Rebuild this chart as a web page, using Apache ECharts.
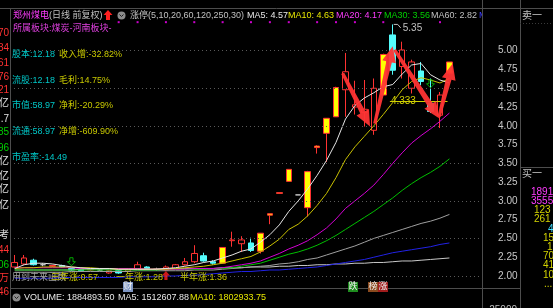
<!DOCTYPE html>
<html><head><meta charset="utf-8">
<script src="https://cdn.jsdelivr.net/npm/echarts@6/dist/echarts.min.js"></script>
<style>html,body{margin:0;padding:0;background:#000;overflow:hidden}#c{width:553px;height:308px}</style>
</head><body><div id="c"></div>
<script>
// ---------------- data ----------------
const categories = ['1','2','3','4','5','6','7','8','9','10','11','12','13','14','15','16','17','18','19','20','21','22','23','24','25','26','27','28','29','30','31','32','33','34','35','36','37','38','39','40','41','42','43','44','45','46','47','48','49','50'];
const opens  = [2.12,2.16,2.21,2.15,2.13,2.14,2.10,2.09,2.08,2.08,2.04,2.07,2.06,2.09,2.12,2.09,2.08,2.09,2.15,2.19,2.27,2.19,2.17,2.47,2.43,2.44,2.33,2.81,3.10,3.26,3.08,2.91,3.71,3.90,4.12,4.48,4.25,4.18,3.94,4.41,5.21,4.79,4.50,4.73,4.30,4.14,4.70];
const closes = [2.18,2.24,2.15,2.15,2.14,2.12,2.08,2.07,2.09,2.08,2.07,2.04,2.08,2.15,2.10,2.09,2.12,2.15,2.19,2.30,2.20,2.17,2.38,2.48,2.48,2.34,2.57,2.83,3.11,3.42,3.08,3.39,3.73,4.10,4.51,4.72,4.28,4.22,4.50,4.95,4.74,5.01,4.85,4.59,4.19,4.41,4.85];
const lows   = [2.11,2.15,2.14,2.13,2.12,2.11,2.07,2.06,2.07,2.07,2.03,2.03,2.05,2.08,2.09,2.07,2.07,2.08,2.14,2.17,2.19,2.15,2.16,2.39,2.32,2.32,2.30,2.69,3.10,3.26,3.08,2.79,3.63,3.52,4.12,4.12,4.15,3.99,3.88,4.41,4.68,4.63,4.43,4.54,4.17,3.97,4.68];
const highs  = [2.28,2.28,2.23,2.17,2.15,2.15,2.11,2.10,2.10,2.10,2.08,2.08,2.09,2.19,2.13,2.11,2.14,2.16,2.24,2.41,2.31,2.21,2.38,2.59,2.53,2.51,2.57,2.83,3.11,3.42,3.08,3.40,3.74,4.10,4.52,4.97,4.60,4.61,4.63,4.96,5.35,5.12,4.88,4.85,4.63,4.45,4.85];
const limitUpIdx = [22,26,27,28,29,31,32,33,34,39,46];
const flatIdx = [3,9,15,30];

const ma5   = [2.10,2.15,2.17,2.17,2.16,2.14,2.12,2.11,2.10,2.10,2.10,2.09,2.09,2.09,2.09,2.09,2.10,2.11,2.13,2.15,2.18,2.20,2.24,2.28,2.33,2.36,2.45,2.55,2.68,2.86,3.00,3.16,3.34,3.54,3.78,4.09,4.27,4.37,4.44,4.52,4.55,4.69,4.81,4.83,4.68,4.61,4.57];
const ma10  = [2.10,2.11,2.11,2.12,2.12,2.12,2.12,2.11,2.11,2.10,2.10,2.09,2.09,2.09,2.09,2.09,2.09,2.10,2.11,2.12,2.13,2.15,2.17,2.20,2.23,2.26,2.32,2.40,2.49,2.62,2.69,2.80,2.94,3.10,3.31,3.55,3.72,3.86,4.00,4.15,4.31,4.48,4.59,4.64,4.61,4.57,4.63];
const ma20  = [2.11,2.11,2.11,2.11,2.11,2.11,2.11,2.10,2.10,2.10,2.10,2.10,2.10,2.10,2.09,2.09,2.09,2.09,2.09,2.10,2.10,2.10,2.11,2.13,2.15,2.17,2.20,2.25,2.30,2.36,2.41,2.47,2.55,2.64,2.76,2.90,3.00,3.10,3.21,3.35,3.50,3.64,3.77,3.87,3.96,4.06,4.17];
const ma30  = [2.08,2.08,2.08,2.08,2.08,2.08,2.08,2.08,2.08,2.08,2.08,2.08,2.08,2.08,2.08,2.08,2.09,2.09,2.09,2.09,2.09,2.10,2.10,2.11,2.13,2.15,2.17,2.21,2.25,2.29,2.32,2.36,2.41,2.47,2.54,2.62,2.70,2.78,2.86,2.95,3.04,3.14,3.23,3.31,3.38,3.46,3.56];
const ma60  = [2.05,2.05,2.05,2.05,2.05,2.05,2.06,2.06,2.06,2.06,2.06,2.06,2.06,2.07,2.07,2.07,2.07,2.07,2.07,2.08,2.08,2.08,2.09,2.10,2.11,2.12,2.13,2.14,2.16,2.17,2.19,2.22,2.24,2.28,2.32,2.36,2.40,2.45,2.50,2.54,2.58,2.62,2.66,2.70,2.73,2.77,2.82];
const ma120 = [1.97,1.97,1.97,1.97,1.97,1.98,1.98,1.98,1.98,1.98,1.98,1.98,1.99,1.99,1.99,1.99,2.00,2.00,2.01,2.01,2.02,2.03,2.04,2.05,2.06,2.06,2.07,2.08,2.08,2.09,2.10,2.11,2.12,2.14,2.16,2.18,2.20,2.22,2.25,2.28,2.31,2.33,2.35,2.37,2.39,2.42,2.44];
const ma250 = [2.08,2.08,2.08,2.08,2.08,2.08,2.08,2.09,2.09,2.09,2.09,2.09,2.09,2.09,2.09,2.09,2.10,2.10,2.10,2.10,2.10,2.10,2.11,2.11,2.11,2.12,2.12,2.12,2.13,2.13,2.14,2.14,2.15,2.15,2.16,2.16,2.17,2.17,2.18,2.18,2.19,2.20,2.20,2.21,2.22,2.23,2.24];

const gridLevels = [2.0,2.5,3.0,3.5,4.0,4.5,5.0];
const dotIdx = [11,13,16,19,22,25,27,29,32,34,36,39,45];
const dotLevel = 5.38;
const buySignals = [[16, 2.005]];
const sellSignals = [[6, 2.19],[44, 4.56]];
const drawnArrows = [[[34.7,4.70],[37.6,3.99]],[[38.1,4.03],[40.0,5.06]],[[40.2,5.01],[44.9,4.10]],[[44.9,4.12],[46.35,4.83]]];
const supportLevel = 4.333, supportFrom = 39.7, supportTo = 45.8;

const headerItems = [
  ['郑州煤电',13,'#ff3cff'],['(日线 前复权)',49,'#c0c0c0'],['涨停(5,10,20,60,120,250,30)',130,'#c0c0c0'],
  ['MA5: 4.57',247,'#e8e8e8'],['MA10: 4.63',288,'#e6e600'],['MA20: 4.17',336,'#ff3cff'],
  ['MA30: 3.56',384,'#00d000'],['MA60: 2.82',431,'#c0c0c0'],['MA120',479,'#3c3cff']
];
const infoRows = [
  ['股本:12.18','收入增:-32.82%',55],['流股:12.18','毛利:14.75%',80.5],
  ['市值:58.97','净利:-20.29%',106],['流通:58.97','净增:-609.90%',131.5],['市盈率:-14.49','',158]
];
const leftEdge = [['70',33,'#ff3232'],['84',48,'#ff3232'],['61',63,'#ff3232'],['76',77,'#ff3232'],['21',90,'#ff3232'],['亿',103,'#e0e0e0'],['.7',119,'#e0e0e0'],['85',132,'#00d000'],['96',148,'#00d000'],['亿',161,'#e0e0e0'],['亿',176,'#e0e0e0'],['亿',189,'#e0e0e0'],['亿',205,'#e0e0e0'],['考',235,'#e0e0e0'],['44',250,'#ff3232'],['06',265,'#00d000'],['万',278,'#ff3232'],['46',292,'#ff3232']];
const bookRows = [['1891',531,'#ff3cff'],['3555',531,'#ff3cff'],['123',534,'#d2d200'],['261',534,'#d2d200'],['4',548,'#3cdcff'],['15',543,'#d2d200'],['1',547,'#d2d200'],['70',543,'#d2d200'],['41',543,'#d2d200'],['10',543,'#d2d200'],['....',544,'#d2d200']];
const periodStats = [['三年涨:0.57',51],['一年涨:1.28',116],['半年涨:1.36',180]];
const volumeItems = [['VOLUME: 1884893.50',24,'#e8e8e8'],['MA5: 1512607.88',118,'#e8e8e8'],['MA10: 1802933.75',190,'#e6e600']];

// ---------------- chart ----------------
const FONT = 'Liberation Sans, Noto Sans CJK SC';
const chart = echarts.init(document.getElementById('c'));

const kData = opens.map((o,i)=>{
  const it = {value:[o, closes[i], lows[i], highs[i]]};
  if (limitUpIdx.includes(i)) it.itemStyle = {color:'#ffff00',color0:'#ffff00',borderColor:'#ff3232',borderColor0:'#ff3232'};
  if (flatIdx.includes(i)) it.itemStyle = {color:'#c8c8c8',color0:'#c8c8c8',borderColor:'#c8c8c8',borderColor0:'#c8c8c8'};
  return it;
});

function maSeries(name, data, color){
  return {name, type:'line', data, symbol:'none', showSymbol:false, silent:true, z:4,
    lineStyle:{color, width:1}, itemStyle:{color}, animation:false};
}

chart.setOption({
  backgroundColor:'#000',
  animation:false,
  grid:{left:10, right:70.5, top:13.15, bottom:13.225, containLabel:false, outerBoundsMode:'none'},
  xAxis:{type:'category', data:categories, boundaryGap:true, axisLine:{show:false}, axisTick:{show:false}, axisLabel:{show:false}, splitLine:{show:false}},
  yAxis:{type:'value', position:'right', min:1.75, max:5.5, interval:0.25, scale:false,
    axisLine:{show:false}, axisTick:{show:false}, splitLine:{show:false},
    axisLabel:{color:'#c8c8c8', fontSize:10, fontFamily:FONT, align:'right', margin:35,
      formatter:v=> (v>1.99 && v<5.01) ? v.toFixed(2) : ''}},
  series:[
    {type:'candlestick', data:kData, barWidth:6, z:3,
     itemStyle:{color:'#000', color0:'#54fcfc', borderColor:'#ff3232', borderColor0:'#54fcfc', borderWidth:1},
     markLine:{silent:true, symbol:['none','none'], label:{show:false}, animation:false,
       lineStyle:{color:'#5a5a5a', type:[1,3], width:1},
       data: gridLevels.map(v=>({yAxis:v}))}},
    maSeries('MA250', ma250, '#c8c8c8'),
    maSeries('MA120', ma120, '#2222e6'),
    maSeries('MA60', ma60, '#a0a0a0'),
    maSeries('MA30', ma30, '#00c000'),
    maSeries('MA20', ma20, '#d400d4'),
    maSeries('MA10', ma10, '#c8c000'),
    maSeries('MA5', ma5, '#e6e6e6'),
    {type:'scatter', data:dotIdx.map(i=>[i,dotLevel]), symbol:'rect', symbolSize:[2,2], itemStyle:{color:'#ff00ff'}, silent:true, z:5},
    {type:'scatter', data:buySignals, symbol:'path://M5,0 L10,5 L7,5 L7,10 L3,10 L3,5 L0,5 Z', symbolSize:[8,9], itemStyle:{color:'#ff1e1e'}, silent:true, z:6},
    {type:'scatter', data:sellSignals, symbol:'path://M3,0 L7,0 L7,5 L10,5 L5,10 L0,5 L3,5 Z', symbolSize:[8,8], itemStyle:{color:'rgba(0,0,0,0)', borderColor:'#00d000', borderWidth:1}, silent:true, z:6}
  ]
});

// ---------------- overlays ----------------
const px0 = chart.convertToPixel({xAxisIndex:0}, 0);
const px1 = chart.convertToPixel({xAxisIndex:0}, 1);
const px = k => px0 + (px1-px0)*k;
const py = v => chart.convertToPixel({yAxisIndex:0}, v);

function T(text,x,y,fill,size,align,z){
  return {type:'text', x, y, silent:true, z:z||100,
    style:{text, fill, font:(size||9)+'px '+FONT, textAlign:align||'left', textVerticalAlign:'middle'}};
}
function L(x1,y1,x2,y2,color,z,dash){
  return {type:'line', silent:true, z:z||95, shape:{x1,y1,x2,y2}, style:{stroke:color||'#4d4d4d', lineWidth:1, lineDash:dash||null}};
}
function R(x,y,w,h,fill,z){ return {type:'rect', silent:true, z:z||98, shape:{x,y,width:w,height:h}, style:{fill}}; }
function arrowPts(x0,y0,x1,y1){
  const dx=x1-x0, dy=y1-y0, Ln=Math.hypot(dx,dy), ux=dx/Ln, uy=dy/Ln, nx=-uy, ny=ux;
  const headL=16, headW=7, w0=1.6, w1=2.8;
  const bx=x1-ux*headL, by=y1-uy*headL;
  return [[x0+nx*w0,y0+ny*w0],[bx+nx*w1,by+ny*w1],[bx+nx*headW,by+ny*headW],[x1,y1],[bx-nx*headW,by-ny*headW],[bx-nx*w1,by-ny*w1],[x0-nx*w0,y0-ny*w0]];
}

const g = [];
// header overflow cover + frame lines
g.push(R(483,9,37,14,'#000',90));
g.push(L(0,8.5,553,8.5));
g.push(L(10.5,8.5,10.5,308));
g.push(L(482.5,0,482.5,308));
g.push(L(520.5,0,520.5,308));
g.push(L(10,288.5,520,288.5));
g.push(L(520,167.5,553,167.5));
g.push(L(520,23.5,553,23.5,'#3a3a3a',95,[1,2]));

// header
headerItems.forEach(([t,x,c])=>g.push(T(t,x,15.5,c,9,'left',80)));
g.push({type:'polygon', silent:true, z:100, shape:{points:[[108,10],[112.5,15],[110,15],[110,20],[106,20],[106,15],[103.5,15]]}, style:{fill:'#ff2020'}});
g.push({type:'circle', silent:true, z:100, shape:{cx:121.5, cy:15.5, r:4}, style:{fill:'#8c8c8c'}});
g.push({type:'polyline', silent:true, z:101, shape:{points:[[119.5,14.5],[121.5,16.5],[123.5,14.5]]}, style:{stroke:'#202020', lineWidth:1}});
g.push(T('所属板块:煤炭-河南板块-',13,28.5,'#e040e0',9));

// info rows
infoRows.forEach(([a,b,y])=>{ g.push(T(a,12,y,'#00c8c8',9)); if(b) g.push(T(b,59,y,'#c8c800',9)); });

// left edge partial texts
leftEdge.forEach(([t,y,c])=>g.push(T(t,9,y,c,10,'right')));

// right panel
g.push(T('卖一',522,16,'#c0c0c0',10));
g.push(T('买一',522,174,'#c0c0c0',10));
bookRows.forEach(([t,x,c],k)=>g.push(T(t,x,192+k*9.2,c,10)));
g.push(T('25000',517,310,'#c0c0c0',10,'right'));

// bottom stats row
g.push(T('用到未来函数',12,277.5,'#a0a0a0',9,'left',99));
periodStats.forEach(([t,x])=>g.push(T(t,x,277.5,'#c8c800',9)));
// volume row
g.push({type:'circle', silent:true, z:100, shape:{cx:16.5, cy:297.5, r:4}, style:{fill:'#8c8c8c'}});
g.push({type:'polyline', silent:true, z:101, shape:{points:[[14.5,296.5],[16.5,298.5],[18.5,296.5]]}, style:{stroke:'#202020', lineWidth:1}});
volumeItems.forEach(([t,x,c])=>g.push(T(t,x,297.5,c,9)));

// tag boxes
[['财',123,'#7f97c4'],['跌',348,'#1e8c1e'],['榜',368,'#8a4a1e'],['涨',378,'#a01c1c']].forEach(([t,x,c])=>{
  g.push(R(x,282,10,10,c,99));
  g.push(T(t,x+5,287,'#f0f0f0',9,'center',100));
});

// max price marker
let maxI = 0; highs.forEach((h,i)=>{ if(h>highs[maxI]) maxI=i; });
const mx = px(maxI), my = py(highs[maxI]);
g.push({type:'polyline', silent:true, z:100, shape:{points:[[mx+1,my],[mx+5,my],[mx+8,my+3.5]]}, style:{stroke:'#c0c0c0', lineWidth:1}});
g.push(T(highs[maxI].toFixed(2),mx+10,my+4,'#c0c0c0',10));

// support line 4.333
const sy = Math.round(py(supportLevel))+0.5;
g.push(L(px(supportFrom),sy,px(supportTo),sy,'#d2d200',60));
g.push(T('4.333',px(supportFrom)+1,sy-0.5,'#d2d200',10,'left',61));

// drawn arrows
drawnArrows.forEach(([a,b])=>{
  g.push({type:'polygon', silent:true, z:110, shape:{points:arrowPts(px(a[0]),py(a[1]),px(b[0]),py(b[1]))}, style:{fill:'rgba(255,52,52,0.95)'}});
});

chart.setOption({graphic:g});
</script>
</body></html>
